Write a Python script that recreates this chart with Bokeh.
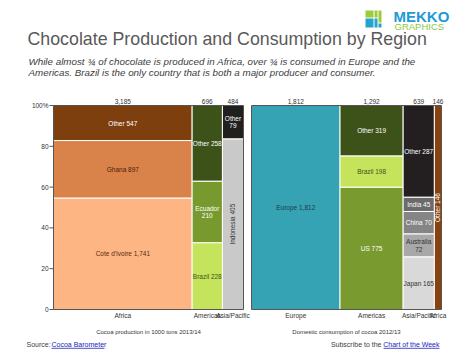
from bokeh.plotting import figure
from bokeh.models import Range1d, ColumnDataSource
from bokeh.core.properties import value
from bokeh.embed import file_html
from bokeh.resources import INLINE

# ---------------- data ----------------
prod_regions = ["Africa", "Americas", "Asia/Pacific"]
prod_names = [["Cote d'Ivoire", "Ghana", "Other"],
              ["Brazil", "Ecuador", "Other"],
              ["Indonesia", "Other"]]
prod_values = [[1741, 897, 547],
               [228, 210, 258],
               [405, 79]]

cons_regions = ["Europe", "Americas", "Asia/Pacific", "Africa"]
cons_names = [["Europe"],
              ["US", "Brazil", "Other"],
              ["Japan", "Australia", "China", "India", "Other"],
              ["Other"]]
cons_values = [[1812],
               [775, 198, 319],
               [165, 72, 70, 45, 287],
               [146]]

y_ticks = [0, 0.2, 0.4, 0.6, 0.8, 1.0]
y_tick_labels = ["0", "20", "40", "60", "80", "100%"]

# ---------------- styles ----------------
prod_colors = [["#FDB683", "#D9834B", "#7E3F0F"],
               ["#C6E45B", "#77992E", "#3D5219"],
               ["#C9C9C9", "#221F1F"]]
prod_tcolors = [["#5A2A0A", "#4A2208", "#FFFFFF"],
                ["#3D5219", "#FFFFFF", "#FFFFFF"],
                ["#333333", "#FFFFFF"]]
prod_seps = [[" ", " ", " "], [" ", "\n", " "], [" ", "\n"]]
prod_angles = [[0, 0, 0], [0, 0, 0], [90, 0]]

cons_colors = [["#35A3B3"],
               ["#789A2F", "#C6E45B", "#3D5219"],
               ["#D9D9D9", "#A8A8A8", "#858585", "#6B6B6B", "#231F20"],
               ["#86430F"]]
cons_tcolors = [["#1F3B4D"],
                ["#FFFFFF", "#3D5219", "#FFFFFF"],
                ["#333333", "#333333", "#FFFFFF", "#FFFFFF", "#FFFFFF"],
                ["#FFFFFF"]]
cons_seps = [[" "], [" ", " ", " "], [" ", "\n", " ", " ", " "], [" "]]
cons_angles = [[0], [0, 0, 0], [0, 0, 0, 0, 0], [90]]

FONT = value("Liberation Sans")
W, H = 466, 351
FL, FT, FB = 53, 105, 309    # left chart left edge, top (100%), bottom (0) in pixels
CW, GAP = 190, 8             # width of each chart, gap between charts
CL2 = FL + CW + GAP          # left edge of second chart

prod_total = sum(sum(v) for v in prod_values)
cons_total = sum(sum(v) for v in cons_values)


def lx(px):
    return (px - FL) * prod_total / CW


def cx(px):
    return (px - CL2) * cons_total / CW


def ly(py):
    return (FB - py) / (FB - FT)


p = figure(width=W, height=H, x_range=Range1d(lx(0), lx(W)), y_range=Range1d(ly(H), ly(0)),
           output_backend="svg", toolbar_location=None, x_axis_location=None,
           y_axis_location=None, min_border=0)
p.extra_x_ranges = {"cons": Range1d(cx(0), cx(W))}
p.outline_line_color = None
p.xgrid.visible = False
p.ygrid.visible = False
p.background_fill_color = "white"
p.border_fill_color = "white"


def txt(x, y, s, size, color="#333333", align="center", style="normal", rng=None, angle=0):
    kw = {} if rng is None else {"x_range_name": rng}
    p.text(x=[x], y=[y], text=[s], text_align=align, text_baseline="middle",
           text_font=FONT, text_font_size=size, text_color=color,
           text_font_style=style, angle=angle, **kw)


def draw_chart(names, vals, colors, tcolors, seps, angles, regions, rng):
    d = dict(left=[], right=[], bottom=[], top=[], color=[])
    t = dict(x=[], y=[], text=[], tcolor=[], angle=[])
    tot = sum(sum(v) for v in vals)
    x0 = 0
    centers = []
    for gi, gv in enumerate(vals):
        gt = sum(gv)
        x1 = x0 + gt
        y0 = 0.0
        for si, v in enumerate(gv):
            y1 = y0 + v / gt
            d["left"].append(x0)
            d["right"].append(x1)
            d["bottom"].append(y0)
            d["top"].append(y1)
            d["color"].append(colors[gi][si])
            t["x"].append((x0 + x1) / 2)
            t["y"].append((y0 + y1) / 2)
            t["text"].append(f"{names[gi][si]}{seps[gi][si]}{v:,}")
            t["tcolor"].append(tcolors[gi][si])
            t["angle"].append(angles[gi][si])
            y0 = y1
        centers.append(((x0 + x1) / 2, gt))
        x0 = x1
    kw = {} if rng is None else {"x_range_name": rng}
    p.quad(left="left", right="right", bottom="bottom", top="top", source=ColumnDataSource(d),
           fill_color="color", line_color="white", line_width=1, **kw)
    p.text(x="x", y="y", text="text", source=ColumnDataSource(t), text_color="tcolor",
           angle="angle", angle_units="deg", text_align="center", text_baseline="middle",
           text_font=FONT, text_font_size="6.5px", text_line_height=1.1, **kw)
    p.quad(left=[0], right=[tot], bottom=[0], top=[1], fill_color=None,
           line_color="#555555", line_width=1, **kw)
    for (xc, gt), reg in zip(centers, regions):
        txt(xc, ly(100.5), f"{gt:,}", "6.5px", rng=rng)
        txt(xc, ly(314.5), reg, "6.5px", rng=rng)
    return tot


draw_chart(prod_names, prod_values, prod_colors, prod_tcolors, prod_seps, prod_angles,
           prod_regions, None)
draw_chart(cons_names, cons_values, cons_colors, cons_tcolors, cons_seps, cons_angles,
           cons_regions, "cons")

# y axis ticks and labels
p.segment(x0=[lx(FL - 4)] * len(y_ticks), x1=[0] * len(y_ticks), y0=y_ticks, y1=y_ticks,
          line_color="#555555", line_width=1)
p.text(x=[lx(FL - 5)] * len(y_ticks), y=y_ticks, text=y_tick_labels, text_align="right",
       text_baseline="middle", text_font=FONT, text_font_size="6.5px", text_color="#333333")

# chart captions
txt(prod_total / 2, ly(331.5), "Cocoa production in 1000 tons 2013/14", "6px")
txt(cons_total / 2, ly(331.5), "Domestic consumption of cocoa 2012/13", "6px", rng="cons")

# title & subtitle
txt(lx(27), ly(38.5), "Chocolate Production and Consumption by Region", "17.8px",
    color="#595959", align="left")
txt(lx(28), ly(60.5),
    "While almost \u00be of chocolate is produced in Africa, over \u00be is consumed in Europe and the",
    "9.8px", color="#404040", align="left", style="italic")
txt(lx(28), ly(71.5),
    "Americas.  Brazil is the only country that is both a major producer and consumer.",
    "9.8px", color="#404040", align="left", style="italic")

# footer
LINK = "#2222BB"
txt(lx(26), ly(344), "Source:", "7px", color="#404040", align="left")
txt(lx(51), ly(344), "Cocoa Barometer", "7px", color=LINK, align="left")
txt(lx(381), ly(344), "Subscribe to the", "7px", color="#404040", align="right")
txt(lx(439), ly(344), "Chart of the Week", "7px", color=LINK, align="right")
p.segment(x0=[lx(51), lx(383)], x1=[lx(104), lx(439)], y0=[ly(347.8)] * 2, y1=[ly(347.8)] * 2,
          line_color=LINK, line_width=0.8)

# logo
GREEN, BLUE = "#9CCB3B", "#27A4CC"
logo = [(365, 373, 10, 17, GREEN), (374, 377, 10, 17, GREEN), (378, 381, 10, 22, GREEN),
        (365, 373, 18, 27, BLUE), (374, 377, 18, 27, BLUE), (378, 381, 23, 27, BLUE)]
p.quad(left=[lx(a[0]) for a in logo], right=[lx(a[1]) for a in logo],
       top=[ly(a[2]) for a in logo], bottom=[ly(a[3]) for a in logo],
       fill_color=[a[4] for a in logo], line_color=None)
txt(lx(393), ly(15.5), "MEKKO", "15px", color="#1E9AD6", align="left", style="bold")
txt(lx(394), ly(25.5), "GRAPHICS", "9.5px", color="#8CC63F", align="left")

open("out.html", "w").write(file_html(p, INLINE))
